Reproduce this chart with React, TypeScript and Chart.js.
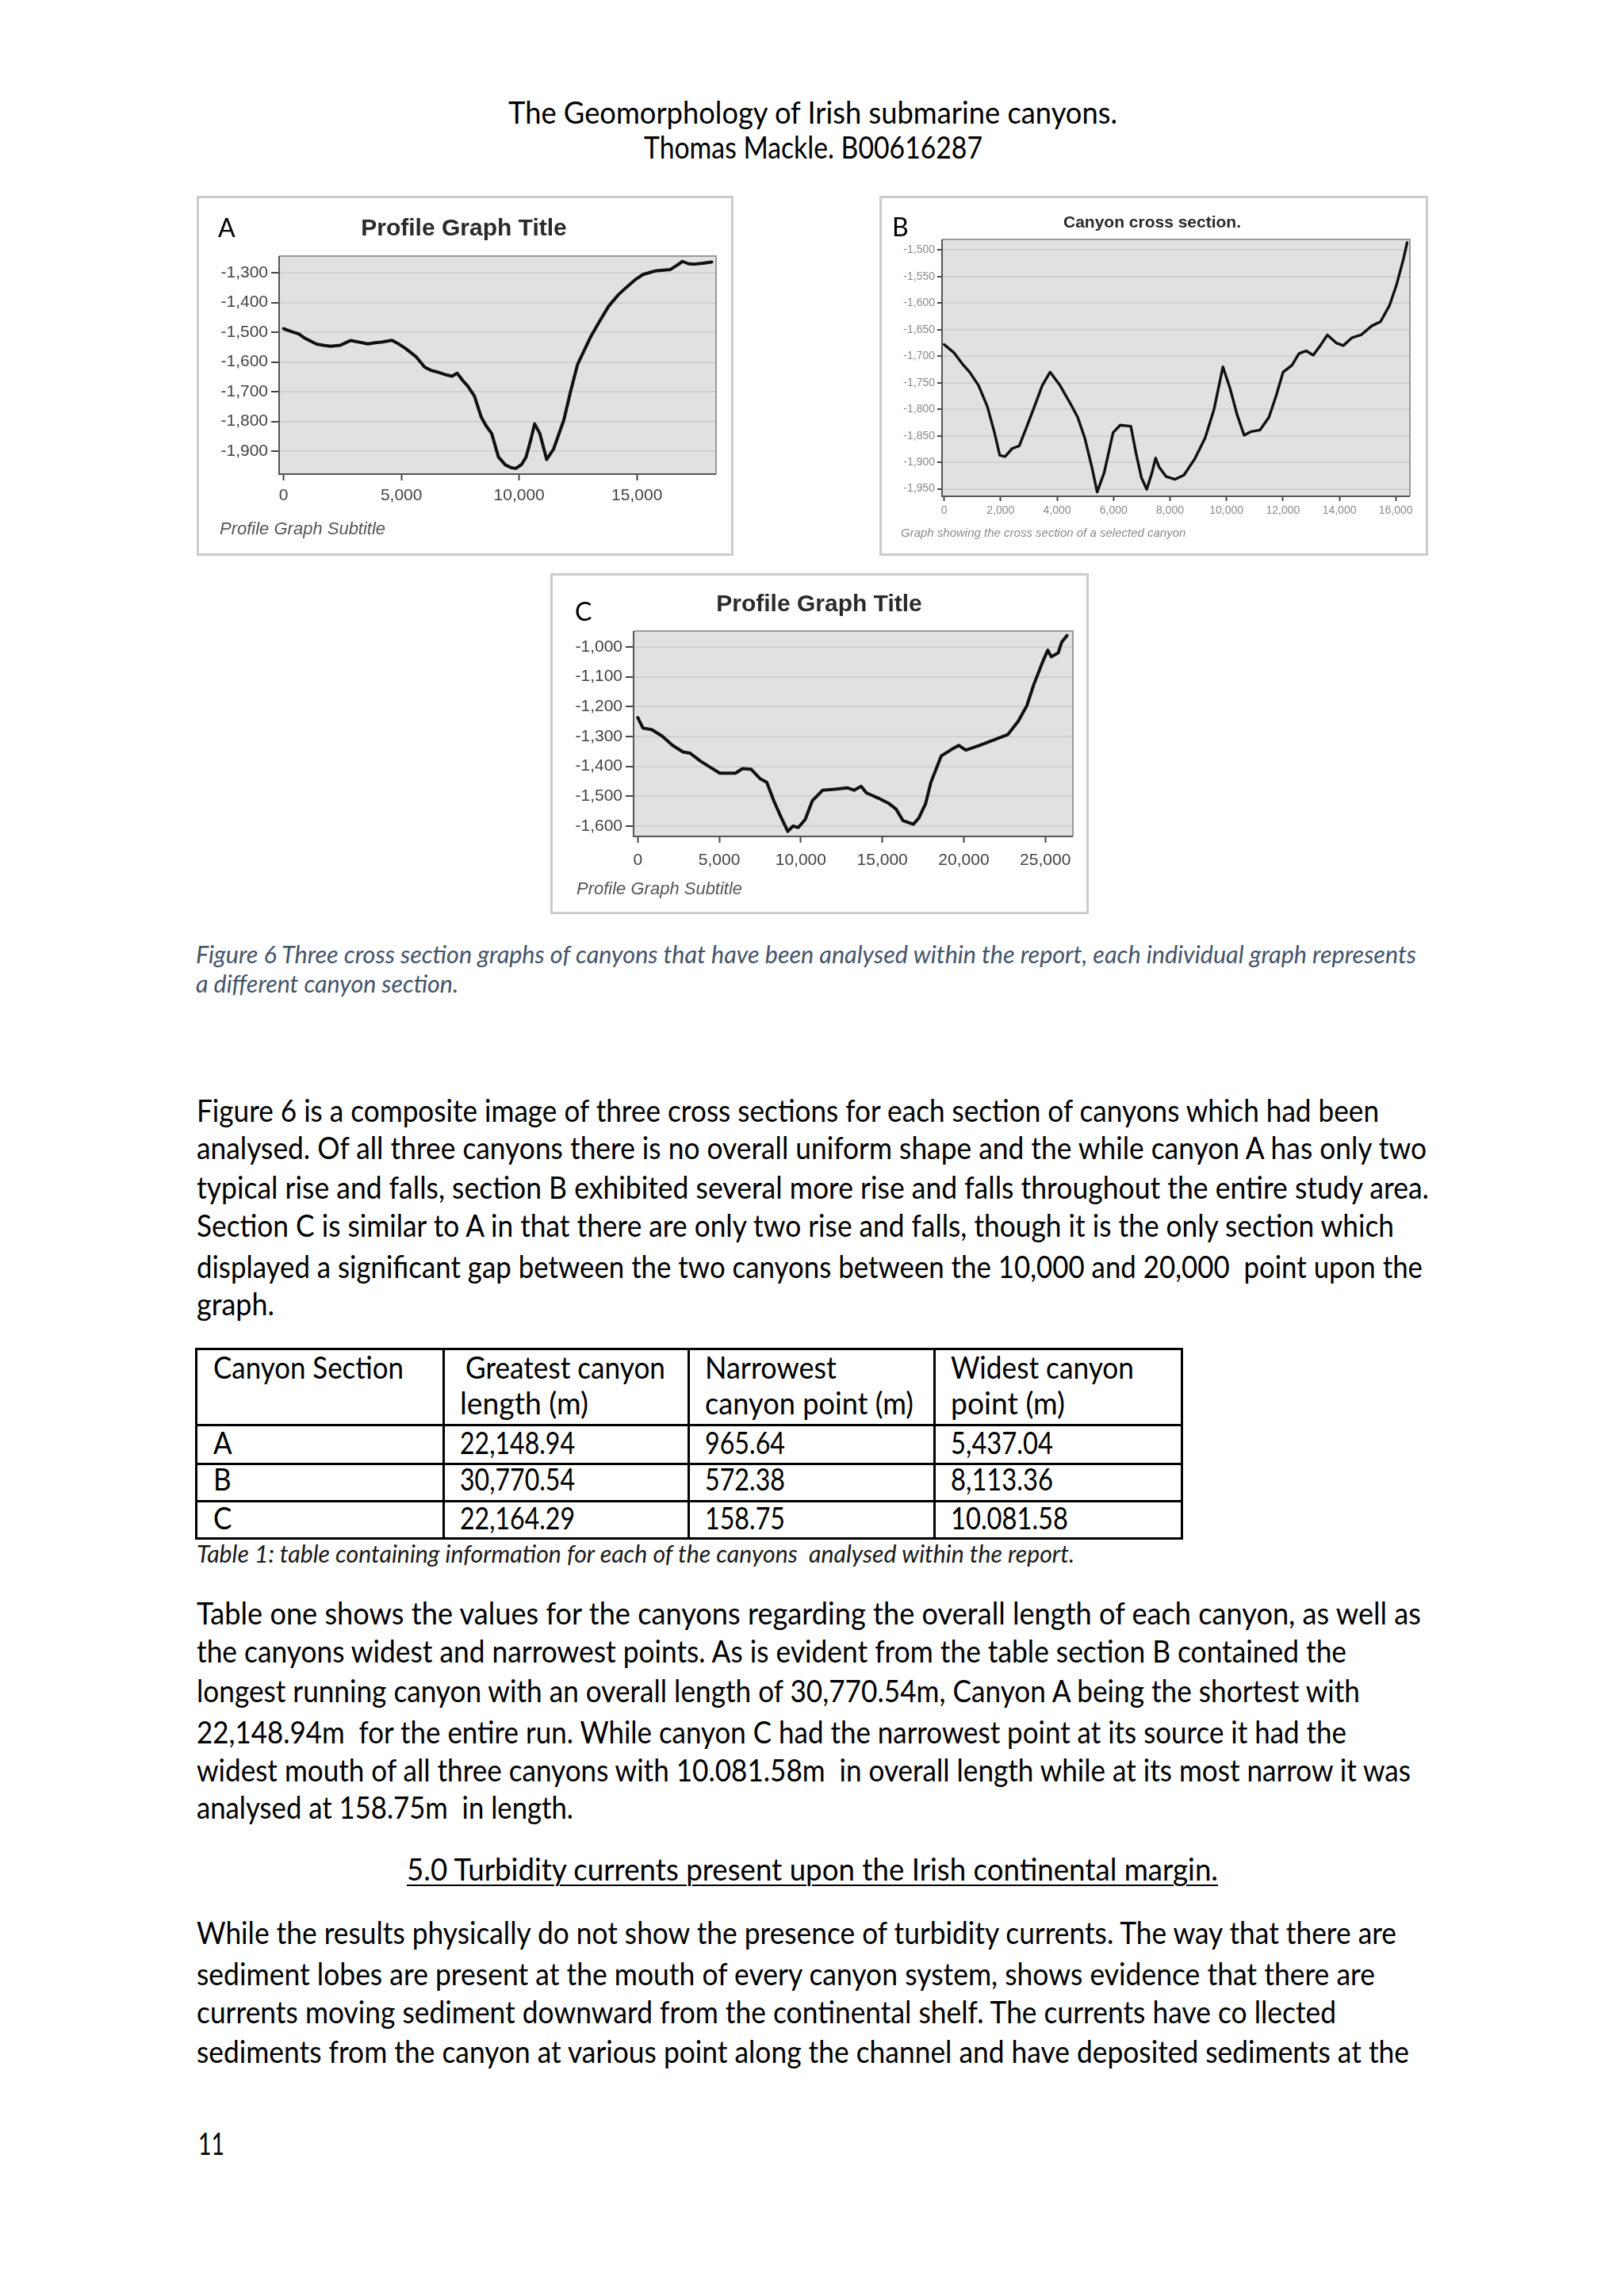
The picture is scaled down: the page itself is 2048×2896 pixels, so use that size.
import React, { useEffect, useLayoutEffect, useRef } from "react";
import { Chart, registerables } from "chart.js";

Chart.register(...registerables);

// ---------------- DATA ----------------
// Canyon A profile (distance m, elevation m)
const A_DIST = [0, 300, 657, 900, 1095, 1400, 1679, 2000, 2409, 2650, 2847, 3200, 3577, 3900, 4161, 4599, 4900, 5182, 5620, 5985, 6250, 6496, 6934, 7150, 7372, 7600, 7810, 8102, 8394, 8600, 8832, 9124, 9416, 9650, 9854, 10100, 10292, 10500, 10657, 10876, 11168, 11460, 11898, 12190, 12482, 12800, 13066, 13400, 13796, 14200, 14526, 14900, 15255, 15600, 15839, 16423, 16700, 16934, 17200, 17445, 17800, 18175];
const A_ELEV = [-1488, -1497, -1506, -1520, -1528, -1540, -1544, -1547, -1544, -1535, -1528, -1533, -1539, -1535, -1533, -1527, -1540, -1555, -1582, -1617, -1628, -1633, -1644, -1648, -1638, -1662, -1680, -1715, -1786, -1815, -1840, -1920, -1946, -1955, -1958, -1945, -1920, -1860, -1808, -1840, -1928, -1893, -1795, -1697, -1608, -1555, -1511, -1465, -1413, -1375, -1351, -1325, -1306, -1298, -1293, -1289, -1275, -1262, -1270, -1271, -1268, -1264];
const A_X_TICKS = [0, 5000, 10000, 15000];
const A_Y_TICKS = [-1300, -1400, -1500, -1600, -1700, -1800, -1900];

// Canyon B profile
const B_DIST = [0, 339, 652, 903, 1217, 1531, 1782, 1970, 2158, 2409, 2660, 2911, 3162, 3476, 3752, 4103, 4479, 4730, 4981, 5232, 5420, 5671, 5985, 6236, 6612, 6801, 6989, 7177, 7365, 7491, 7616, 7867, 8181, 8494, 8871, 9247, 9561, 9875, 10125, 10376, 10627, 10878, 11192, 11506, 11757, 12008, 12321, 12572, 12823, 13074, 13325, 13576, 13890, 14141, 14454, 14768, 15144, 15458, 15772, 16023, 16274, 16399];
const B_ELEV = [-1678, -1693, -1715, -1730, -1755, -1795, -1844, -1887, -1889, -1874, -1869, -1835, -1800, -1755, -1730, -1755, -1790, -1815, -1854, -1909, -1956, -1919, -1844, -1830, -1832, -1884, -1929, -1951, -1919, -1892, -1909, -1927, -1932, -1924, -1894, -1854, -1800, -1720, -1760, -1810, -1849, -1842, -1839, -1815, -1775, -1730, -1717, -1695, -1690, -1698, -1680, -1660, -1675, -1680, -1665, -1660, -1643, -1635, -1605, -1566, -1516, -1486];
const B_X_TICKS = [0, 2000, 4000, 6000, 8000, 10000, 12000, 14000, 16000];
const B_Y_TICKS = [-1500, -1550, -1600, -1650, -1700, -1750, -1800, -1850, -1900, -1950];

// Canyon C profile
const C_DIST = [0, 321, 856, 1498, 2140, 2783, 3211, 3853, 4495, 5030, 5993, 6421, 6956, 7491, 7919, 8347, 8775, 9204, 9525, 9846, 10274, 10702, 11344, 12200, 12842, 13271, 13699, 14020, 14769, 15411, 15839, 16267, 16909, 17230, 17658, 17979, 18621, 19264, 19692, 20120, 20976, 21832, 22688, 23330, 23866, 24294, 24829, 25150, 25364, 25792, 26006, 26327];
const C_ELEV = [-1237, -1272, -1277, -1299, -1330, -1352, -1356, -1383, -1405, -1423, -1423, -1408, -1410, -1441, -1454, -1516, -1569, -1618, -1600, -1605, -1578, -1516, -1480, -1476, -1472, -1480, -1467, -1489, -1507, -1525, -1543, -1582, -1594, -1574, -1525, -1454, -1365, -1343, -1330, -1346, -1330, -1312, -1294, -1250, -1197, -1126, -1051, -1011, -1033, -1020, -984, -962];
const C_X_TICKS = [0, 5000, 10000, 15000, 20000, 25000];
const C_Y_TICKS = [-1000, -1100, -1200, -1300, -1400, -1500, -1600];

// Table
const TABLE_HEAD = [["Canyon Section", ""], ["Greatest canyon", "length (m)"], ["Narrowest", "canyon point (m)"], ["Widest canyon", "point (m)"]];
const TABLE_SECTIONS = ["A", "B", "C"];
const TABLE_LENGTH = ["22,148.94", "30,770.54", "22,164.29"];
const TABLE_NARROW = ["965.64", "572.38", "158.75"];
const TABLE_WIDE = ["5,437.04", "8,113.36", "10.081.58"];

// ---------------- LAYOUT ----------------
type Spec = {
  box: { left: number; top: number; w: number; h: number };
  plot: { l: number; t: number; r: number; b: number };
  xMin: number; xMax: number; yMin: number; yMax: number;
  title: string; titleSize: number; titleCx: number; titleCy: number;
  sub: string; subSize: number; subX: number; subCy: number; subColor: string;
  label: string; labelX: number; labelCy: number;
  tickSize: number; tickColor: string;
  yTickLen: number; yTickPad: number; xTickLen: number; xTickPad: number;
  lineWidth: number;
};

const SPEC_A: Spec = {
  box: { left: 248, top: 247, w: 677, h: 454 },
  plot: { l: 104, t: 76, r: 655, b: 351 },
  xMin: -190, xMax: 18360, yMin: -1977, yMax: -1244,
  title: "Profile Graph Title", titleSize: 30, titleCx: 337, titleCy: 42,
  sub: "Profile Graph Subtitle", subSize: 22, subX: 29, subCy: 421, subColor: "#555",
  label: "A", labelX: 27, labelCy: 42,
  tickSize: 21, tickColor: "#444", yTickLen: 10, yTickPad: 4, xTickLen: 8, xTickPad: 7,
  lineWidth: 4,
};
const SPEC_B: Spec = {
  box: { left: 1109, top: 247, w: 692, h: 454 },
  plot: { l: 79, t: 55, r: 669, b: 379 },
  xMin: -75, xMax: 16499, yMin: -1964, yMax: -1480,
  title: "Canyon cross section.", titleSize: 21, titleCx: 344, titleCy: 34,
  sub: "Graph showing the cross section of a selected canyon", subSize: 15, subX: 27, subCy: 426, subColor: "#8a8a8a",
  label: "B", labelX: 16, labelCy: 41,
  tickSize: 14, tickColor: "#8a8a8a", yTickLen: 6, yTickPad: 3, xTickLen: 6, xTickPad: 4,
  lineWidth: 3.4,
};
const SPEC_C: Spec = {
  box: { left: 694, top: 723, w: 679, h: 430 },
  plot: { l: 105, t: 73, r: 659, b: 332 },
  xMin: -257, xMax: 26691, yMin: -1635, yMax: -947,
  title: "Profile Graph Title", titleSize: 30, titleCx: 339, titleCy: 40,
  sub: "Profile Graph Subtitle", subSize: 22, subX: 33, subCy: 399, subColor: "#555",
  label: "C", labelX: 31, labelCy: 50,
  tickSize: 21, tickColor: "#444", yTickLen: 10, yTickPad: 4, xTickLen: 8, xTickPad: 10,
  lineWidth: 4,
};

const fmt = (v: number) => Number(v).toLocaleString("en-US");

function ProfileChart({ spec, xs, ys, xTicks, yTicks }: { spec: Spec; xs: number[]; ys: number[]; xTicks: number[]; yTicks: number[] }) {
  const ref = useRef<HTMLCanvasElement>(null);
  useEffect(() => {
    const { box, plot } = spec;
    const data = xs.map((x, i) => ({ x, y: ys[i] }));
    const frame = {
      id: "frame",
      beforeDraw(chart: any) {
        const ctx = chart.ctx;
        const a = chart.chartArea;
        ctx.save();
        ctx.fillStyle = "#ffffff";
        ctx.fillRect(0, 0, box.w, box.h);
        ctx.strokeStyle = "#cccccc";
        ctx.lineWidth = 3;
        ctx.strokeRect(1.5, 1.5, box.w - 3, box.h - 3);
        ctx.fillStyle = "#e1e1e1";
        ctx.fillRect(a.left, a.top, a.right - a.left, a.bottom - a.top);
        ctx.restore();
      },
      afterDraw(chart: any) {
        const ctx = chart.ctx;
        const a = chart.chartArea;
        ctx.save();
        ctx.lineWidth = 2;
        ctx.strokeStyle = "#9a9a9a";
        ctx.beginPath();
        ctx.moveTo(a.left, a.top);
        ctx.lineTo(a.right, a.top);
        ctx.lineTo(a.right, a.bottom);
        ctx.stroke();
        ctx.strokeStyle = "#555";
        ctx.beginPath();
        ctx.moveTo(a.left, a.top);
        ctx.lineTo(a.left, a.bottom);
        ctx.lineTo(a.right, a.bottom);
        ctx.stroke();
        ctx.textBaseline = "middle";
        ctx.fillStyle = "#2a2a2a";
        ctx.textAlign = "center";
        ctx.font = `bold ${spec.titleSize}px "Liberation Sans", Arial, sans-serif`;
        ctx.fillText(spec.title, spec.titleCx, spec.titleCy);
        ctx.textAlign = "left";
        ctx.fillStyle = spec.subColor;
        ctx.font = `italic ${spec.subSize}px "Liberation Sans", Arial, sans-serif`;
        ctx.fillText(spec.sub, spec.subX, spec.subCy);
        ctx.fillStyle = "#000";
        ctx.font = `32px Lato, sans-serif`;
        ctx.fillText(spec.label, spec.labelX, spec.labelCy);
        ctx.restore();
      },
    };
    const tickFont = { family: '"Liberation Sans", Arial, sans-serif', size: spec.tickSize };
    const chart = new Chart(ref.current as HTMLCanvasElement, {
      type: "line",
      data: {
        datasets: [
          { data, borderColor: "#111", borderWidth: spec.lineWidth, pointRadius: 0, tension: 0, fill: false, borderJoinStyle: "round", borderCapStyle: "round" } as any,
        ],
      },
      options: {
        animation: false,
        responsive: false,
        maintainAspectRatio: false,
        events: [],
        layout: { autoPadding: false, padding: { left: 0, top: plot.t, right: box.w - plot.r, bottom: 0 } } as any,
        plugins: { legend: { display: false }, tooltip: { enabled: false }, title: { display: false } },
        scales: {
          x: {
            type: "linear",
            min: spec.xMin,
            max: spec.xMax,
            afterBuildTicks: (s: any) => { s.ticks = xTicks.map((v) => ({ value: v })); },
            afterFit: (s: any) => { s.height = box.h - plot.b; },
            grid: { drawOnChartArea: false, tickLength: spec.xTickLen, tickColor: "#444", tickWidth: 2 } as any,
            border: { display: false },
            ticks: { font: tickFont, color: spec.tickColor, padding: spec.xTickPad, maxRotation: 0, autoSkip: false, callback: (v: any) => fmt(v) },
          },
          y: {
            type: "linear",
            min: spec.yMin,
            max: spec.yMax,
            afterBuildTicks: (s: any) => { s.ticks = yTicks.map((v) => ({ value: v })); },
            afterFit: (s: any) => { s.width = plot.l; },
            grid: { color: "#d0d0d0", lineWidth: 2, tickLength: spec.yTickLen, tickColor: "#444", tickWidth: 2 } as any,
            border: { display: false },
            ticks: { font: tickFont, color: spec.tickColor, padding: spec.yTickPad, autoSkip: false, callback: (v: any) => fmt(v) },
          },
        },
      },
      plugins: [frame],
    } as any);
    return () => chart.destroy();
  }, []);
  return (
    <canvas
      ref={ref}
      width={spec.box.w}
      height={spec.box.h}
      style={{ position: "absolute", left: spec.box.left, top: spec.box.top, width: spec.box.w, height: spec.box.h, display: "block" }}
    />
  );
}

// ---------------- TEXT ----------------
function Line({ x, cy, w, text, size = 38, italic = false, color = "#000", underline = false }: { x: number; cy: number; w?: number; text: string; size?: number; italic?: boolean; color?: string; underline?: boolean }) {
  const ref = useRef<HTMLSpanElement>(null);
  useLayoutEffect(() => {
    const fit = () => {
      const el = ref.current;
      if (!el) return;
      el.style.transform = "none";
      const m = el.getBoundingClientRect().width;
      const target = w ?? m * 0.92;
      if (m > 0) el.style.transform = `scaleX(${target / m})`;
    };
    fit();
    (document as any).fonts?.ready?.then(fit);
  }, [text, w]);
  return (
    <span
      ref={ref}
      style={{
        position: "absolute",
        left: x,
        top: cy - 0.58 * size,
        fontSize: size,
        lineHeight: `${size}px`,
        fontFamily: "Lato, sans-serif",
        fontStyle: italic ? "italic" : "normal",
        whiteSpace: "pre",
        transformOrigin: "0 0",
        color,
        textDecoration: underline ? "underline" : "none",
        textDecorationThickness: underline ? 2 : undefined,
        textUnderlineOffset: underline ? 5 : undefined,
      }}
    >
      {text}
    </span>
  );
}

const PARA1 = [
  "Figure 6 is a composite image of three cross sections for each section of canyons which had been",
  "analysed. Of all three canyons there is no overall uniform shape and the while canyon A has only two",
  "typical rise and falls, section B exhibited several more rise and falls throughout the entire study area.",
  "Section C is similar to A in that there are only two rise and falls, though it is the only section which",
  "displayed a significant gap between the two canyons between the 10,000 and 20,000  point upon the",
  "graph.",
];
const PARA1_Y = [1403, 1450, 1500, 1548, 1600, 1647];
const PARA1_W = [1491, 1551, 1554, 1510, 1546, 98];

const PARA2 = [
  "Table one shows the values for the canyons regarding the overall length of each canyon, as well as",
  "the canyons widest and narrowest points. As is evident from the table section B contained the",
  "longest running canyon with an overall length of 30,770.54m, Canyon A being the shortest with",
  "22,148.94m  for the entire run. While canyon C had the narrowest point at its source it had the",
  "widest mouth of all three canyons with 10.081.58m  in overall length while at its most narrow it was",
  "analysed at 158.75m  in length.",
];
const PARA2_Y = [2037, 2085, 2135, 2187, 2235, 2282];
const PARA2_W = [1544, 1450, 1467, 1450, 1531, 475];

const PARA3 = [
  "While the results physically do not show the presence of turbidity currents. The way that there are",
  "sediment lobes are present at the mouth of every canyon system, shows evidence that there are",
  "currents moving sediment downward from the continental shelf. The currents have co llected",
  "sediments from the canyon at various point along the channel and have deposited sediments at the",
];
const PARA3_Y = [2440, 2492, 2540, 2590];
const PARA3_W = [1513, 1486, 1437, 1529];

function Table() {
  const rowsY = [1701, 1797, 1846, 1893, 1940];
  const colsX = [247, 559, 868, 1178, 1490];
  const colText = [269, 580, 889, 1199];
  const headW = [[240, 0], [252, 162], [166, 263], [231, 144]];
  const cellY = [1822, 1868, 1917];
  const lines: JSX.Element[] = [];
  rowsY.forEach((y, i) => lines.push(<div key={"h" + i} style={{ position: "absolute", left: colsX[0] - 1, top: y - 1.5, width: colsX[4] - colsX[0] + 3, height: 3, background: "#000" }} />));
  colsX.forEach((x, i) => lines.push(<div key={"v" + i} style={{ position: "absolute", left: x - 1.5, top: rowsY[0] - 1, width: 3, height: rowsY[4] - rowsY[0] + 3, background: "#000" }} />));
  return (
    <>
      {lines}
      {TABLE_HEAD.map((h, i) => (
        <React.Fragment key={"th" + i}>
          <Line x={colText[i] + (i === 1 ? 7 : 0)} cy={1727} w={headW[i][0]} text={h[0]} />
          {h[1] && <Line x={colText[i]} cy={1772} w={headW[i][1]} text={h[1]} />}
        </React.Fragment>
      ))}
      {TABLE_SECTIONS.map((s, r) => (
        <React.Fragment key={"tr" + r}>
          <Line x={colText[0]} cy={cellY[r]} text={s} />
          <Line x={colText[1]} cy={cellY[r]} w={145} text={TABLE_LENGTH[r]} />
          <Line x={colText[2]} cy={cellY[r]} w={101} text={TABLE_NARROW[r]} />
          <Line x={colText[3]} cy={cellY[r]} w={r === 2 ? 148 : 129} text={TABLE_WIDE[r]} />
        </React.Fragment>
      ))}
    </>
  );
}

export default function App() {
  return (
    <div style={{ position: "absolute", left: 0, top: 0, width: 2048, height: 2896, background: "#fff", overflow: "hidden" }}>
      <Line x={641} cy={144} w={768} text="The Geomorphology of Irish submarine canyons." />
      <Line x={812} cy={188} w={427} text="Thomas Mackle. B00616287" />

      <ProfileChart spec={SPEC_A} xs={A_DIST} ys={A_ELEV} xTicks={A_X_TICKS} yTicks={A_Y_TICKS} />
      <ProfileChart spec={SPEC_B} xs={B_DIST} ys={B_ELEV} xTicks={B_X_TICKS} yTicks={B_Y_TICKS} />
      <ProfileChart spec={SPEC_C} xs={C_DIST} ys={C_ELEV} xTicks={C_X_TICKS} yTicks={C_Y_TICKS} />

      <Line x={247} cy={1206} w={1539} size={31} italic color="#44546a" text="Figure 6 Three cross section graphs of canyons that have been analysed within the report, each individual graph represents" />
      <Line x={247} cy={1243} w={331} size={31} italic color="#44546a" text="a different canyon section." />

      {PARA1.map((t, i) => <Line key={"p1" + i} x={248} cy={PARA1_Y[i]} w={PARA1_W[i]} text={t} />)}

      <Table />
      <Line x={248} cy={1962} w={1107} size={31} italic color="#1a1a1a" text="Table 1: table containing information for each of the canyons  analysed within the report." />

      {PARA2.map((t, i) => <Line key={"p2" + i} x={248} cy={PARA2_Y[i]} w={PARA2_W[i]} text={t} />)}

      <Line x={513} cy={2360} w={1023} underline text="5.0 Turbidity currents present upon the Irish continental margin." />

      {PARA3.map((t, i) => <Line key={"p3" + i} x={248} cy={PARA3_Y[i]} w={PARA3_W[i]} text={t} />)}

      <Line x={250} cy={2706} w={33} text="11" />
    </div>
  );
}
